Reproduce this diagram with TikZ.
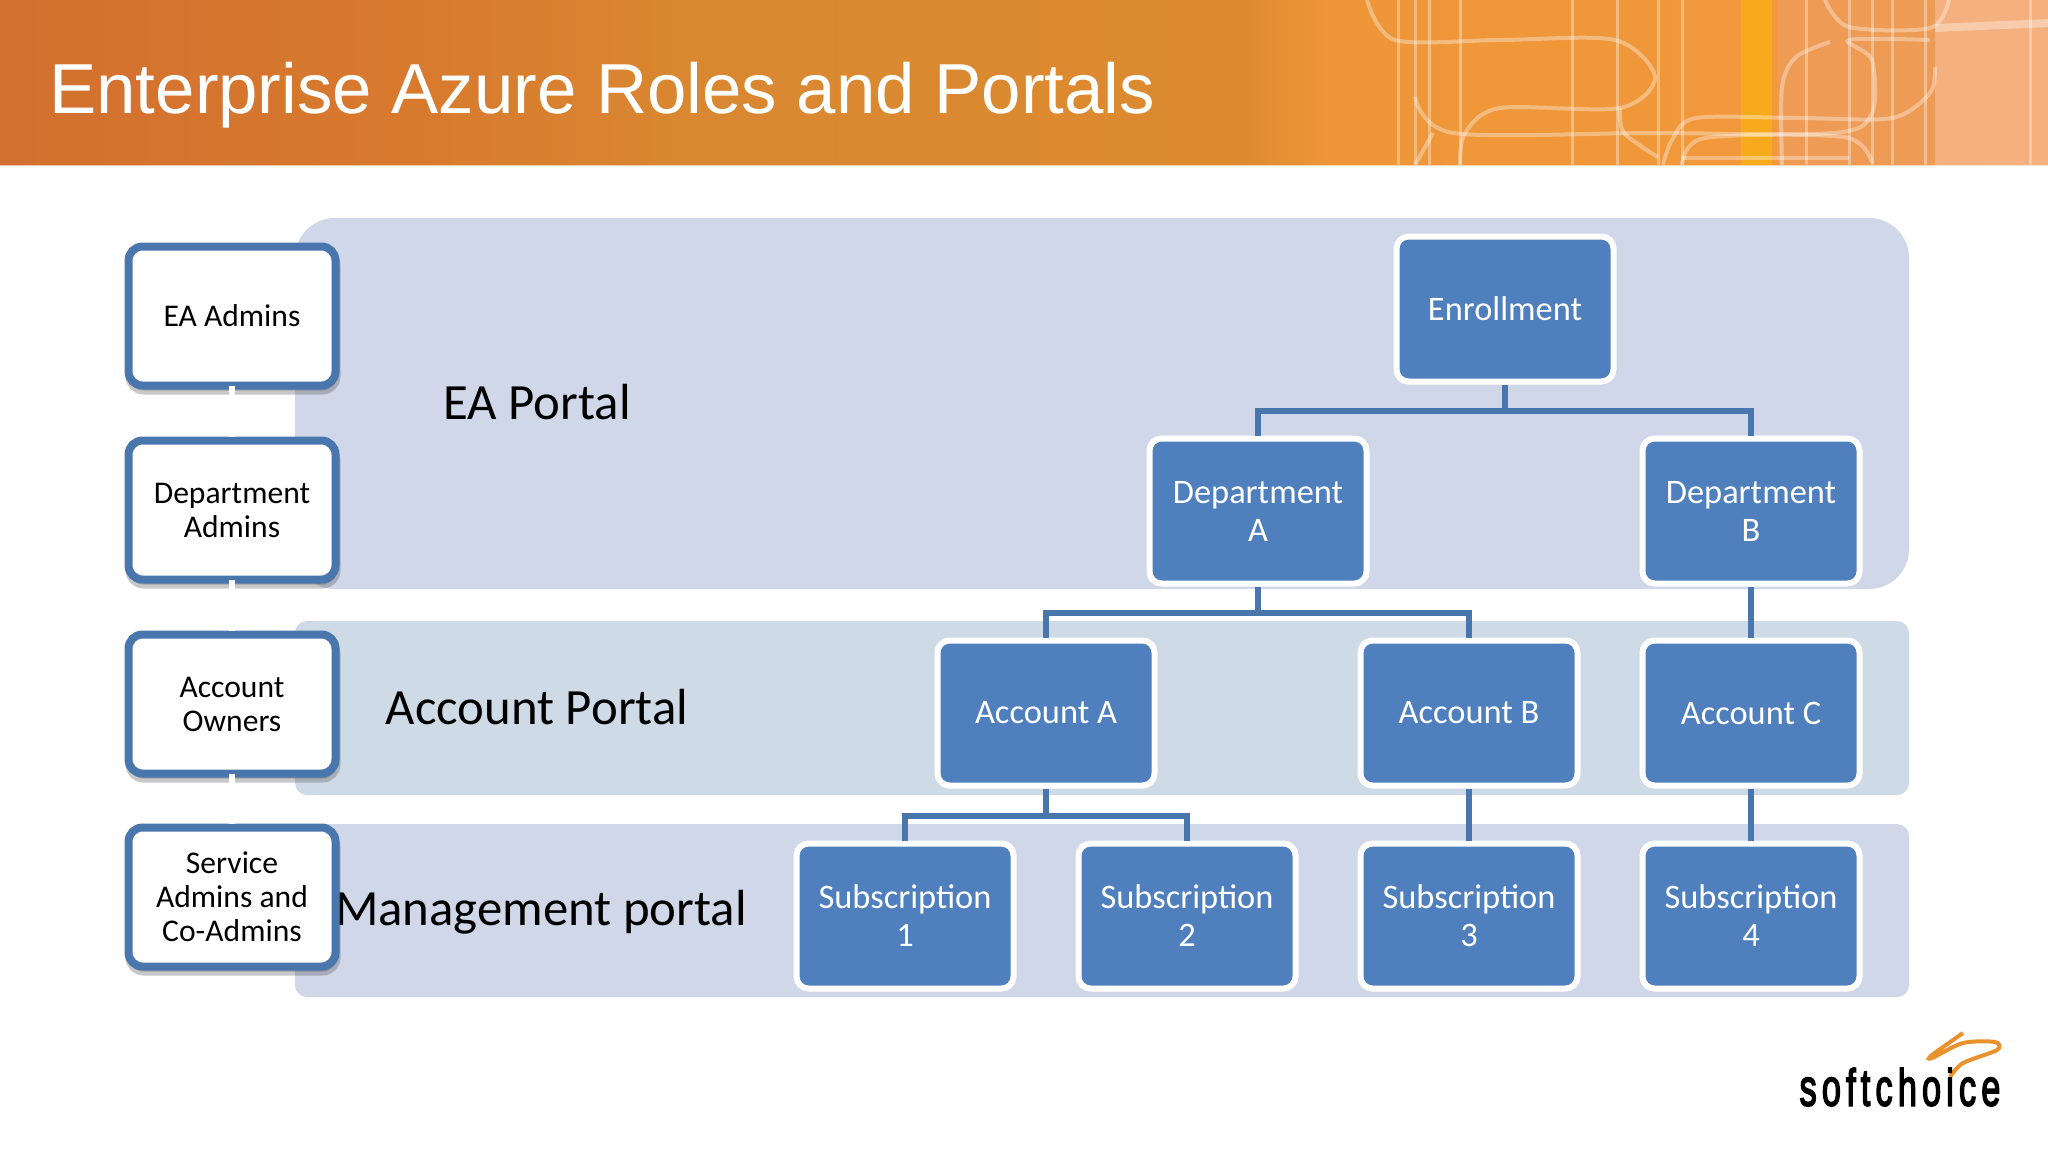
\documentclass[tikz,border=0pt]{standalone}
\usepackage{fontspec}
\setmainfont{Carlito}
\newfontfamily\titlefont{Liberation Sans}
\newfontfamily\logofont[LetterSpace=15,FakeBold=3.5]{Liberation Sans}
\usetikzlibrary{shadows}

\definecolor{bandblue}{HTML}{CFD7E8}
\definecolor{bandgrey}{HTML}{CFDAE7}
\definecolor{boxblue}{HTML}{4F80BD}
\definecolor{linkblue}{HTML}{4A76AE}
\definecolor{logoorange}{HTML}{E8912D}

\begin{document}
\begin{tikzpicture}[x=0.5pt,y=-0.5pt,
                    band/.style={fill=bandblue, draw=none},
                    unit/.style={rectangle, draw=white, line width=3pt, fill=boxblue, rounded corners=6pt,
                                 text=white, align=center, minimum width=108.5pt, minimum height=72.5pt,
                                 inner sep=0pt, font=\fontsize{17.2}{19}\selectfont},
                    role/.style={rectangle, draw=linkblue, line width=4pt, fill=white, rounded corners=7pt,
                                 text=black, align=center, minimum width=103.5pt, minimum height=69.5pt,
                                 inner sep=0pt, font=\fontsize{15.8}{17}\selectfont,
                                 drop shadow={shadow xshift=0.5pt, shadow yshift=-2.5pt, draw=black!70, fill=black!70, opacity=0.3}},
                    portal/.style={text=black, inner sep=0pt, font=\fontsize{25.4}{28}\selectfont},
                    link/.style={draw=linkblue, line width=2.6pt},
                    stub/.style={draw=white, line width=3pt, shorten <=-2pt},
                    streak/.style={draw=white, opacity=0.35, line width=1.5pt},
                    trace/.style={draw=white, opacity=0.35, line width=2pt}]
    \useasboundingbox (0,0) rectangle (2048,1152);
    \fill[white] (0,0) rectangle (2048,1152);

    % Header
    \foreach \xa/\ca/\xb/\cb in {0/D2702F/420/D87A2E, 420/D87A2E/700/D98831, 700/D98831/1240/DD8A2F,
                                 1240/DD8A2F/1330/EE9638, 1330/EE9638/1777/F0983A, 1777/EE9B55/1935/EE9B55,
                                 1935/F5B07F/2048/F5B080} {
        \definecolor{ca}{HTML}{\ca}
        \definecolor{cb}{HTML}{\cb}
        \shade[left color=ca, right color=cb, shading angle=90] (\xa,0) rectangle (\xb,165);
    }
    \fill[orange!50!yellow, opacity=0.5] (1741,0) rectangle (1772,165);
    \foreach \x in {1398,1415,1429,1460,1572,1617,1658,1682,1806,1849,1872,1892,1925,2030} {
        \draw[streak] (\x,0) -- (\x,165);
    }
    \draw[trace] plot[smooth, tension=0.5] coordinates {(1367,0) (1395,40) (1500,40) (1615,40) (1655,77) (1620,108) (1500,108) (1465,133) (1460,165)};
    \draw[trace] plot[smooth, tension=0.5] coordinates {(1415,97) (1453,133) (1650,133) (1834,133) (1872,113) (1872,60) (1849,40) (1930,40)};
    \draw[trace] plot[smooth, tension=0.5] coordinates {(1830,42) (1796,57) (1782,87) (1782,165)};
    \draw[trace] plot[smooth, tension=0.5] coordinates {(1935,67) (1930,93) (1892,118) (1800,118) (1696,118) (1672,140) (1663,165)};
    \draw[trace] plot[smooth, tension=0.5] coordinates {(1682,165) (1705,138) (1844,137) (1872,163)};
    \draw[trace] (1682,158) -- (1849,158);
    \draw[trace] plot[smooth, tension=0.5] coordinates {(1825,0) (1849,27) (1930,28) (1949,0)};
    \draw[trace, line width=4pt] (1935,28) -- (2048,23);
    \draw[trace] plot[smooth, tension=0.5] coordinates {(1620,108) (1624,133) (1658,157)};
    \draw[trace] (1415,165) -- (1433,133);
    \draw[white, opacity=0.6] (0,165) -- (2048,165);
    \node[text=white, inner sep=0pt, anchor=base west, font=\titlefont\fontsize{35.4}{40}\selectfont] (title) at (49,113) {Enterprise Azure Roles and Portals};

    % Portal bands
    \fill[band, rounded corners=20pt] (295,218) rectangle (1909,589);
    \fill[bandgrey, rounded corners=6pt] (295,621) rectangle (1909,795);
    \fill[band, rounded corners=6pt] (295,824) rectangle (1909,997);

    \node[portal] (eaportal) at (537,402) {EA Portal};
    \node[portal] (accportal) at (537,707) {Account Portal};
    \node[portal] (mgmtportal) at (541,912) {Management portal};

    % Role boxes
    \node[role] (eaadmins) at (232,316) {EA Admins};
    \node[role] (depadmins) at (232,510) {Department\\Admins};
    \node[role] (accowners) at (232,704) {Account\\Owners};
    \node[role] (svcadmins) at (232,897) {Service\\Admins and\\Co-Admins};
    \draw[stub] (eaadmins.south) -- (depadmins.north);
    \draw[stub] (depadmins.south) -- (accowners.north);
    \draw[stub] (accowners.south) -- (svcadmins.north);

    % Enrollment tree
    \node[unit] (enrollment) at (1505,309) {Enrollment};
    \node[unit] (depta) at (1258,511) {Department\\A};
    \node[unit] (deptb) at (1751,511) {Department\\B};

    \node[unit] (acca) at (1046,713) {Account A};
    \node[unit] (accb) at (1469,713) {Account B};
    \node[unit] (accc) at (1751,713) {Account C};

    \node[unit] (sub1) at (905,916) {Subscription\\1};
    \node[unit] (sub2) at (1187,916) {Subscription\\2};
    \node[unit] (sub3) at (1469,916) {Subscription\\3};
    \node[unit] (sub4) at (1751,916) {Subscription\\4};

    % Relationships
    \coordinate (busdept) at (1505,411);
    \coordinate (busacc) at (1258,613);
    \coordinate (bussub) at (1046,816);
    \draw[link] (enrollment.south) -- (busdept) -| (depta.north);
    \draw[link] (busdept) -| (deptb.north);
    \draw[link] (depta.south) -- (busacc) -| (acca.north);
    \draw[link] (busacc) -| (accb.north);
    \draw[link] (deptb.south) -- (accc.north);
    \draw[link] (acca.south) -- (bussub) -| (sub1.north);
    \draw[link] (bussub) -| (sub2.north);
    \draw[link] (accb.south) -- (sub3.north);
    \draw[link] (accc.south) -- (sub4.north);

    % Logo
    \draw[logoorange, line width=2pt] plot[smooth] coordinates {(1950,1077) (1963,1063) (1997,1050) (1995,1042) (1963,1043) (1932,1058) (1932,1055) (1963,1033)};
    \node[text=black, inner sep=0pt, xscale=0.66, transform shape, font=\logofont\fontsize{26}{28}\selectfont] (logo) at (1900,1087) {softchoice};
\end{tikzpicture}
\end{document}
